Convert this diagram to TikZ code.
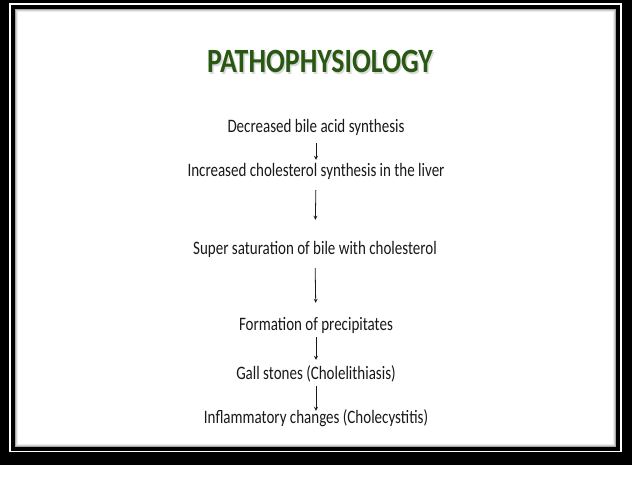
\documentclass[tikz,border=0pt]{standalone}
\usepackage{fontspec}
\setmainfont{Carlito}
\newfontfamily\stagefont{Carlito}[FakeStretch=0.79]
\newfontfamily\headfont{Carlito}[FakeStretch=0.82]
\usetikzlibrary{arrows}
\definecolor{titlegreen}{RGB}{40,88,18}
\definecolor{textgray}{RGB}{25,25,25}
\tikzstyle{stage} = [font=\stagefont\fontsize{19}{22}\selectfont, text=textgray, anchor=base, inner sep=0pt, text height=12pt, text depth=4pt]
\tikzstyle{heading} = [font=\headfont\fontsize{34}{40}\selectfont\bfseries, anchor=base, inner sep=0pt]
\tikzstyle{arrow} = [->,>=stealth, line width=0.8pt, textgray]

\begin{document}
\begin{tikzpicture}[x=1pt,y=-1pt]
\useasboundingbox (0,0) rectangle (638,478);
% frame
\fill[black] (0,0) rectangle (632,465);
\fill[white] (9,3.3) rectangle (622,452);
\fill[black] (11,5.3) rectangle (620,451);
\fill[white] (15,9) rectangle (616,447);
\draw[gray!70] (15.5,9.5) rectangle (615.5,446.5);
\draw[gray!35] (16.5,10.5) rectangle (614.5,445.5);
\draw[gray!15] (17.5,11.5) rectangle (613.5,444.5);

% title
\node (titleshadow) [heading, text=gray!30] at (321.5,74.5) {PATHOPHYSIOLOGY};
\node (title) [heading, text=titlegreen] at (320,73) {PATHOPHYSIOLOGY};

% stages
\node (bile) [stage] at (316,133) {Decreased bile acid synthesis};
\node (chol) [stage] at (316,177) {Increased cholesterol synthesis in the liver};
\node (satur) [stage] at (315,255) {Super saturation of bile with cholesterol};
\node (precip) [stage] at (316,331) {Formation of precipitates};
\node (stones) [stage] at (316,380) {Gall stones (Cholelithiasis)};
\node (inflam) [stage] at (316,424) {Inflammatory changes (Cholecystitis)};

\draw [arrow, shorten <=6pt, shorten >=5pt] (bile.south) -- (chol.north);
\draw [arrow, shorten <=9pt, shorten >=23pt] (chol.south) -- (satur.north);
\draw [arrow, shorten <=9pt, shorten >=16pt] (satur.south) -- (precip.north);
\draw [arrow, shorten <=2pt, shorten >=8pt] (precip.south) -- (stones.north);
\draw [arrow, shorten <=2pt, shorten >=1pt] (stones.south) -- (inflam.north);
\end{tikzpicture}
\end{document}
